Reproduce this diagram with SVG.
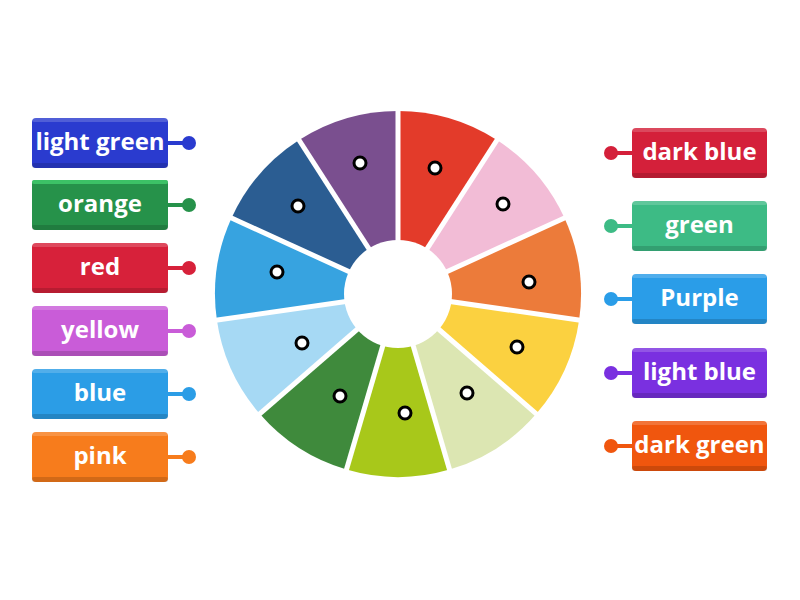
<svg xmlns="http://www.w3.org/2000/svg" width="800" height="600" viewBox="0 0 800 600">
<style>
.lbl{font-family:"Open Sans","Liberation Sans",sans-serif;font-weight:bold;font-size:24px;fill:#ffffff;text-anchor:middle}
.hi{fill:#ffffff;opacity:0.18}
.sh{fill:#000000;opacity:0.15}
.gap{stroke:#ffffff;stroke-width:5;stroke-linecap:butt}
.pin{fill:#ffffff;stroke:#000000;stroke-width:3}
.conn{stroke-width:4}
</style>
<rect width="800" height="600" fill="#ffffff"/>
<g id="wheel">
<path d="M398 294 L398 111 A183 183 0 0 1 496.93 140.04 Z" fill="#e33b2a"/>
<path d="M398 294 L496.93 140.04 A183 183 0 0 1 564.46 217.98 Z" fill="#f2bcd6"/>
<path d="M398 294 L564.46 217.98 A183 183 0 0 1 579.13 320.04 Z" fill="#ec7b3a"/>
<path d="M398 294 L579.13 320.04 A183 183 0 0 1 536.29 413.85 Z" fill="#fbd140"/>
<path d="M398 294 L536.29 413.85 A183 183 0 0 1 449.55 469.59 Z" fill="#dce6b2"/>
<path d="M398 294 L449.55 469.59 A183 183 0 0 1 346.45 469.59 Z" fill="#a8c81a"/>
<path d="M398 294 L346.45 469.59 A183 183 0 0 1 259.71 413.85 Z" fill="#3f8a3c"/>
<path d="M398 294 L259.71 413.85 A183 183 0 0 1 216.87 320.04 Z" fill="#a6d9f4"/>
<path d="M398 294 L216.87 320.04 A183 183 0 0 1 231.54 217.98 Z" fill="#37a3e0"/>
<path d="M398 294 L231.54 217.98 A183 183 0 0 1 299.07 140.04 Z" fill="#2b5d92"/>
<path d="M398 294 L299.07 140.04 A183 183 0 0 1 398 111 Z" fill="#7a4f8f"/>
<g class="gap">
<line x1="398" y1="294" x2="398" y2="108"/>
<line x1="398" y1="294" x2="498.6" y2="137.5"/>
<line x1="398" y1="294" x2="567.2" y2="216.7"/>
<line x1="398" y1="294" x2="582.1" y2="320.5"/>
<line x1="398" y1="294" x2="538.6" y2="415.8"/>
<line x1="398" y1="294" x2="450.4" y2="472.5"/>
<line x1="398" y1="294" x2="345.6" y2="472.5"/>
<line x1="398" y1="294" x2="257.4" y2="415.8"/>
<line x1="398" y1="294" x2="213.9" y2="320.5"/>
<line x1="398" y1="294" x2="228.8" y2="216.7"/>
<line x1="398" y1="294" x2="297.4" y2="137.5"/>
</g>
<circle cx="398" cy="294" r="54" fill="#ffffff"/>
<g id="pins">
<circle class="pin" cx="435" cy="168" r="6"/>
<circle class="pin" cx="503" cy="204" r="6"/>
<circle class="pin" cx="529" cy="282" r="6"/>
<circle class="pin" cx="517" cy="347" r="6"/>
<circle class="pin" cx="467" cy="393" r="6"/>
<circle class="pin" cx="405" cy="413" r="6"/>
<circle class="pin" cx="340" cy="396" r="6"/>
<circle class="pin" cx="302" cy="343" r="6"/>
<circle class="pin" cx="277" cy="272" r="6"/>
<circle class="pin" cx="298" cy="206" r="6"/>
<circle class="pin" cx="360" cy="163" r="6"/>
</g>
</g>
<g id="connectors">
<line class="conn" x1="168" y1="143" x2="189" y2="143" stroke="#2a3bcf"/><circle cx="189" cy="143" r="7" fill="#2a3bcf"/>
<line class="conn" x1="168" y1="205" x2="189" y2="205" stroke="#26924a"/><circle cx="189" cy="205" r="7" fill="#26924a"/>
<line class="conn" x1="168" y1="268" x2="189" y2="268" stroke="#d7213a"/><circle cx="189" cy="268" r="7" fill="#d7213a"/>
<line class="conn" x1="168" y1="331" x2="189" y2="331" stroke="#c95cd8"/><circle cx="189" cy="331" r="7" fill="#c95cd8"/>
<line class="conn" x1="168" y1="394" x2="189" y2="394" stroke="#2b9de6"/><circle cx="189" cy="394" r="7" fill="#2b9de6"/>
<line class="conn" x1="168" y1="457" x2="189" y2="457" stroke="#f77c1c"/><circle cx="189" cy="457" r="7" fill="#f77c1c"/>
<line class="conn" x1="611" y1="153" x2="632" y2="153" stroke="#d4203a"/><circle cx="611" cy="153" r="7" fill="#d4203a"/>
<line class="conn" x1="611" y1="226" x2="632" y2="226" stroke="#3dbb85"/><circle cx="611" cy="226" r="7" fill="#3dbb85"/>
<line class="conn" x1="611" y1="299" x2="632" y2="299" stroke="#2a9de8"/><circle cx="611" cy="299" r="7" fill="#2a9de8"/>
<line class="conn" x1="611" y1="373" x2="632" y2="373" stroke="#7a30e0"/><circle cx="611" cy="373" r="7" fill="#7a30e0"/>
<line class="conn" x1="611" y1="446" x2="632" y2="446" stroke="#f0560e"/><circle cx="611" cy="446" r="7" fill="#f0560e"/>
</g>
<g id="n-light-green"><rect x="32" y="118" width="136" height="50" rx="4" fill="#2a3bcf"/><rect class="hi" x="32" y="118" width="136" height="4" rx="2"/><rect class="sh" x="32" y="163" width="136" height="5" rx="2"/><text class="lbl" x="100" y="150">light green</text></g>
<g id="n-orange"><rect x="32" y="180" width="136" height="50" rx="4" fill="#26924a"/><rect x="32" y="180" width="136" height="4" rx="2" fill="#3cc266"/><rect class="sh" x="32" y="225" width="136" height="5" rx="2"/><text class="lbl" x="100" y="212">orange</text></g>
<g id="n-red"><rect x="32" y="243" width="136" height="50" rx="4" fill="#d7213a"/><rect class="hi" x="32" y="243" width="136" height="4" rx="2"/><rect class="sh" x="32" y="288" width="136" height="5" rx="2"/><text class="lbl" x="100" y="275">red</text></g>
<g id="n-yellow"><rect x="32" y="306" width="136" height="50" rx="4" fill="#c95cd8"/><rect class="hi" x="32" y="306" width="136" height="4" rx="2"/><rect class="sh" x="32" y="351" width="136" height="5" rx="2"/><text class="lbl" x="100" y="338">yellow</text></g>
<g id="n-blue"><rect x="32" y="369" width="136" height="50" rx="4" fill="#2b9de6"/><rect class="hi" x="32" y="369" width="136" height="4" rx="2"/><rect class="sh" x="32" y="414" width="136" height="5" rx="2"/><text class="lbl" x="100" y="401">blue</text></g>
<g id="n-pink"><rect x="32" y="432" width="136" height="50" rx="4" fill="#f77c1c"/><rect class="hi" x="32" y="432" width="136" height="4" rx="2"/><rect class="sh" x="32" y="477" width="136" height="5" rx="2"/><text class="lbl" x="100" y="464">pink</text></g>
<g id="n-dark-blue"><rect x="632" y="128" width="135" height="50" rx="4" fill="#d4203a"/><rect class="hi" x="632" y="128" width="135" height="4" rx="2"/><rect class="sh" x="632" y="173" width="135" height="5" rx="2"/><text class="lbl" x="699.5" y="160">dark blue</text></g>
<g id="n-green"><rect x="632" y="201" width="135" height="50" rx="4" fill="#3dbb85"/><rect class="hi" x="632" y="201" width="135" height="4" rx="2"/><rect class="sh" x="632" y="246" width="135" height="5" rx="2"/><text class="lbl" x="699.5" y="233">green</text></g>
<g id="n-purple"><rect x="632" y="274" width="135" height="50" rx="4" fill="#2a9de8"/><rect class="hi" x="632" y="274" width="135" height="4" rx="2"/><rect class="sh" x="632" y="319" width="135" height="5" rx="2"/><text class="lbl" x="699.5" y="306">Purple</text></g>
<g id="n-light-blue"><rect x="632" y="348" width="135" height="50" rx="4" fill="#7a30e0"/><rect class="hi" x="632" y="348" width="135" height="4" rx="2"/><rect class="sh" x="632" y="393" width="135" height="5" rx="2"/><text class="lbl" x="699.5" y="380">light blue</text></g>
<g id="n-dark-green"><rect x="632" y="421" width="135" height="50" rx="4" fill="#f0560e"/><rect class="hi" x="632" y="421" width="135" height="4" rx="2"/><rect class="sh" x="632" y="466" width="135" height="5" rx="2"/><text class="lbl" x="699.5" y="453">dark green</text></g>
</svg>
